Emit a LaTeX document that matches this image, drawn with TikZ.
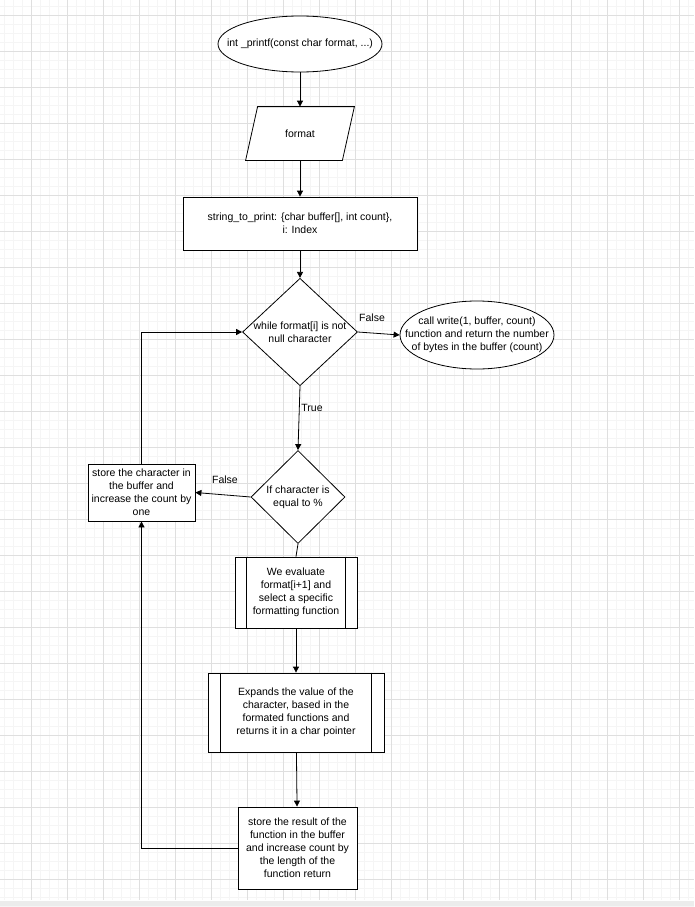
\documentclass[tikz,border=0pt]{standalone}
\usepackage{fontspec}
\setmainfont{Liberation Sans}
\usetikzlibrary{shapes.geometric,arrows.meta}
\tikzset{
	box/.style={draw, fill=white, align=center, inner sep=2pt},
	txt/.style={align=center, inner sep=0pt},
	arr/.style={draw, -{Triangle[length=6pt,width=6pt]}},
	lab/.style={font=\fontsize{10.5}{12}\selectfont}
}
\begin{document}
\begin{tikzpicture}[x=1pt,y=-1pt,font=\fontsize{10.5}{13}\selectfont,line width=0.8pt]
		\useasboundingbox (0,0) rectangle (694,907);
		\fill[gray!15] (0,901) rectangle (694,907);
		\foreach \x in {0,9,...,694} \draw[line width=0.6pt,gray!8] (\x+4.7,0) -- (\x+4.7,900);
		\foreach \y in {0,9,...,900} \draw[line width=0.6pt,gray!8] (0,\y+6) -- (694,\y+6);
		\foreach \x in {0,36,...,694} \draw[line width=0.6pt,gray!25] (\x-4.3,0) -- (\x-4.3,900);
		\foreach \y in {0,36,...,900} \draw[line width=0.6pt,gray!25] (0,\y+15) -- (694,\y+15);
		%
		\node (start)[txt, minimum width=164, minimum height=56] at (300,44){};
		\draw[fill=white] (start.center) ellipse [x radius=82, y radius=28];
		\node[txt] at (start.center){int \_printf(const char format, ...)};
		\node (fmt)[txt, minimum width=96, minimum height=53] at (300,133.5){};
		\draw[fill=white] ([xshift=6]fmt.north west) -- ([xshift=6]fmt.north east) -- ([xshift=-6]fmt.south east) -- ([xshift=-6]fmt.south west) -- cycle;
		\node[txt] at (fmt.center){format};
		\node (init)[box, minimum width=234, minimum height=53] at (300,223.5){string\_to\_print: \{char buffer[], int count\},\\ i: Index};
		\node (loop)[box, diamond, aspect=1.07, minimum width=114, minimum height=107, inner sep=0pt] at (300,332){while format[i] is not\\ null character};
		\node (ret)[txt, minimum width=154, minimum height=68] at (477,335){};
		\draw[fill=white] (ret.center) ellipse [x radius=77, y radius=34];
		\node[txt] at (ret.center){call write(1, buffer, count)\\ function and return the number\\ of bytes in the buffer (count)};
		\node (pct)[box, diamond, minimum width=94, minimum height=93, inner sep=0pt] at (298,497){If character is\\ equal to \%};
		\node (store)[box, minimum width=107, minimum height=57] at (141.5,492.5){store the character in\\ the buffer and\\ increase the count by\\ one};
		\node (eval)[box, minimum width=122, minimum height=71] at (296,592.5){We evaluate\\ format[i+1] and\\ select a specific\\ formatting function};
		\draw (eval.north west) ++(12,0) -- ++(0,71) (eval.north east) ++(-12,0) -- ++(0,71);
		\node (expand)[box, minimum width=176, minimum height=79] at (296,712.5){Expands the value of the\\ character, based in the\\ formated functions and\\ returns it in a char pointer};
		\draw (expand.north west) ++(13,0) -- ++(0,79) (expand.north east) ++(-13,0) -- ++(0,79);
		\node (result)[box, minimum width=119, minimum height=82] at (297.5,848){store the result of the\\ function in the buffer\\ and increase count by\\ the length of the\\ function return};
		%
		\draw[arr] (start.south) -- (fmt.north);
		\draw[arr] (fmt.south) -- (init);
		\draw[arr] (init) -- (loop);
		\draw[arr] (loop.east) -- (ret.west);
		\node[lab] at (372,318){False};
		\draw[arr] (loop.south) -- (pct.north);
		\node[lab] at (312,408){True};
		\draw[arr] (pct.west) -- (store.east);
		\node[lab] at (225,480){False};
		\draw[arr] (store.north) |- (loop.west);
		\draw (pct.south) -- (eval.north);
		\draw[arr] (eval) -- (expand);
		\draw[arr] (expand) -- (result);
		\draw[arr] (result.west) -| (store.south);
	\end{tikzpicture}
\end{document}
